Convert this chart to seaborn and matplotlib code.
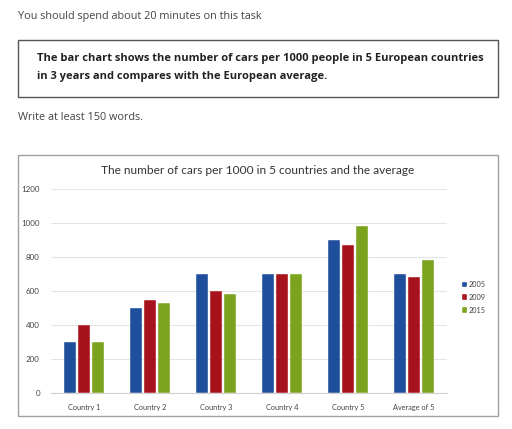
import pandas as pd
import matplotlib
matplotlib.use("Agg")
import matplotlib.pyplot as plt
from matplotlib.patches import Rectangle
import seaborn as sns

# chart values
countries = ["Country 1", "Country 2", "Country 3", "Country 4", "Country 5", "Average of 5"]
years = ["2005", "2009", "2015"]
cars_2005 = [300, 500, 700, 700, 900, 700]
cars_2009 = [400, 550, 600, 700, 870, 680]
cars_2015 = [300, 530, 580, 700, 980, 780]
y_ticks = [0, 200, 400, 600, 800, 1000, 1200]

data = pd.DataFrame({
    "Country": countries * 3,
    "Year": [y for y in years for _ in countries],
    "Cars": cars_2005 + cars_2009 + cars_2015,
})

colors = ["#1F4E9C", "#A8121C", "#7BA31E"]

sns.set_style("white")
plt.rcParams['font.family'] = ['Open Sans', 'DejaVu Sans']

W, H = 512, 429
fig = plt.figure(figsize=(W / 100, H / 100), dpi=100)

def px(x, y):
    # pixel coords (top-left origin) to figure fraction
    return x / W, 1 - y / H

# task text above the chart
fig.text(*px(18, 17), "You should spend about 20 minutes on this task",
         fontsize=7.85, color="#444444", va="center", ha="left")
fig.patches.append(Rectangle(px(18, 97), 480 / W, 57 / H, transform=fig.transFigure,
                             fill=False, edgecolor="#555555", linewidth=1.0))
fig.text(*px(37, 58), "The bar chart shows the number of cars per 1000 people in 5 European countries",
         fontsize=8.05, fontweight="bold", color="#222222", va="center", ha="left")
fig.text(*px(37, 77), "in 3 years and compares with the European average.",
         fontsize=8.05, fontweight="bold", color="#222222", va="center", ha="left")
fig.text(*px(18, 117), "Write at least 150 words.",
         fontsize=7.85, color="#444444", va="center", ha="left")

# chart frame
fig.patches.append(Rectangle(px(18, 416), 480 / W, 261 / H, transform=fig.transFigure,
                             fill=False, edgecolor="#A0A0A0", linewidth=1.0))
fig.text(*px(258, 170), "The number of cars per 1000 in 5 countries and the average",
         fontsize=8.6, color="#333333", va="center", ha="center", family=['Lato', 'DejaVu Sans'])

ax = fig.add_axes([51 / W, 36 / H, 396 / W, 204 / H])
sns.barplot(ax=ax, data=data, x="Country", y="Cars", hue="Year", palette=colors,
            saturation=1, width=0.64, gap=0.15, edgecolor="white", linewidth=0.3)

ax.set_ylim(0, 1200)
ax.set_yticks(y_ticks)
ax.set_xlim(-0.5, 5.5)
ax.set_xlabel("")
ax.set_ylabel("")
ax.grid(axis="y", color="#E4E4E4", linewidth=0.8)
ax.set_axisbelow(True)
for s in ["top", "right", "left"]:
    ax.spines[s].set_visible(False)
ax.spines["bottom"].set_color("#D0D0D0")
ax.tick_params(axis="x", length=0, labelsize=5.3, colors="#444444", pad=8)
ax.tick_params(axis="y", length=0, labelsize=5.8, colors="#444444", pad=8)
for lab in ax.get_xticklabels() + ax.get_yticklabels():
    lab.set_family(['Lato', 'DejaVu Sans'])

leg = ax.legend(loc="center left", bbox_to_anchor=(1.02, 0.47), frameon=False,
                fontsize=5.3, handlelength=0.7, handleheight=0.7, handletextpad=0.3,
                labelspacing=0.8)
for t in leg.get_texts():
    t.set_color("#444444")
    t.set_family(['Lato', 'DejaVu Sans'])

fig.savefig("out.png", dpi=100)
